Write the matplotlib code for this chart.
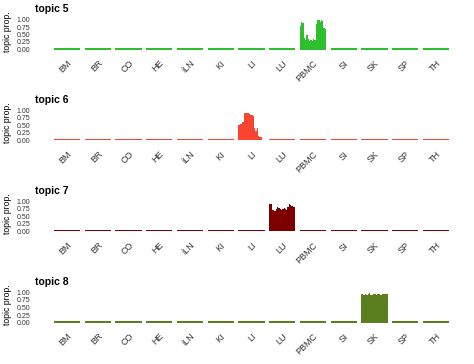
import numpy as np
import matplotlib.pyplot as plt

plt.rcParams['font.family'] = ['Liberation Sans', 'DejaVu Sans']

# tissues (x facets) and samples per tissue
tissues = ["BM", "BR", "CO", "HE", "iLN", "KI", "LI", "LU", "PBMC", "SI", "SK", "SP", "TH"]
n_samp = 20

topics = ["topic 5", "topic 6", "topic 7", "topic 8"]
colors = ["#2dbf2d", "#fa4432", "#7d0000", "#5b7e1e"]

# low background proportion per tissue for each topic
bg5 = [0.04, 0.04, 0.04, 0.04, 0.04, 0.04, 0.04, 0.04, 0.0, 0.04, 0.04, 0.05, 0.04]
bg6 = [0.04, 0.04, 0.04, 0.04, 0.04, 0.05, 0.0, 0.04, 0.04, 0.04, 0.04, 0.04, 0.04]
bg7 = [0.04, 0.04, 0.04, 0.04, 0.04, 0.04, 0.04, 0.0, 0.04, 0.04, 0.04, 0.04, 0.05]
bg8 = [0.04, 0.04, 0.04, 0.04, 0.04, 0.04, 0.04, 0.04, 0.04, 0.04, 0.0, 0.04, 0.04]

# per-sample proportions in the tissue where each topic peaks
peak5 = [0.80, 0.92, 0.90, 0.40, 0.32, 0.50, 0.35, 0.30, 0.33, 0.30, 0.36, 0.32,
         0.85, 0.97, 1.00, 0.93, 0.99, 0.96, 0.72, 0.70]
peak6 = [0.50, 0.55, 0.55, 0.60, 0.92, 0.92, 0.93, 0.90, 0.88, 0.86, 0.85, 0.80,
         0.40, 0.30, 0.40, 0.15, 0.10, 0.12, 0.03, 0.02]
peak7 = [0.92, 0.92, 0.70, 0.72, 0.68, 0.74, 0.80, 0.78, 0.76, 0.72, 0.75, 0.79,
         0.75, 0.72, 0.80, 0.93, 0.88, 0.85, 0.82, 0.80]
peak8 = [0.95, 0.93, 0.92, 0.95, 0.93, 0.96, 0.97, 0.93, 0.92, 0.95, 0.96, 0.93,
         0.94, 0.96, 0.93, 0.92, 0.95, 0.96, 0.94, 0.95]

bgs = [bg5, bg6, bg7, bg8]
peaks = [peak5, peak6, peak7, peak8]
peak_tissue = ["PBMC", "LI", "LU", "SK"]

W, H = 474, 364
fig = plt.figure(figsize=(W / 100, H / 100), dpi=100)

gap = n_samp * 4.4 / 26.3
pitch = n_samp + gap
centers = [i * pitch + n_samp / 2 for i in range(len(tissues))]

for k in range(4):
    top = 18 + 91 * k
    bot = 51 + 91 * k
    ax = fig.add_axes([54 / W, 1 - bot / H, (449 - 54) / W, (bot - top) / H])
    for i, t in enumerate(tissues):
        if t == peak_tissue[k]:
            vals = peaks[k]
        else:
            vals = [bgs[k][i]] * n_samp
        xs = i * pitch + np.arange(n_samp) + 0.5
        ax.bar(xs, vals, width=1.0, color=colors[k], linewidth=0)
    ax.set_xlim(0, 12 * pitch + n_samp)
    ax.set_ylim(-0.05, 1.05)
    ax.set_yticks([0, 0.25, 0.5, 0.75, 1.0])
    ax.set_yticklabels(["0.00", "0.25", "0.50", "0.75", "1.00"])
    ax.set_xticks(centers)
    ax.set_xticklabels(tissues, rotation=45, ha='right', va='top', rotation_mode='anchor')
    ax.tick_params(axis='y', length=0, pad=17, labelsize=5, labelcolor='#333333')
    ax.tick_params(axis='x', length=0, pad=5.5, labelsize=6.5, labelcolor='#333333')
    for s in ax.spines.values():
        s.set_visible(False)
    fig.text(35 / W, 1 - (9 + 91 * k) / H, topics[k], fontsize=7.5, fontweight='bold',
             ha='left', va='center')
    fig.text(8 / W, 1 - (32 + 91 * k) / H, "topic prop.", fontsize=6.2, rotation=90,
             ha='center', va='center')

fig.savefig("out.png", dpi=100)
